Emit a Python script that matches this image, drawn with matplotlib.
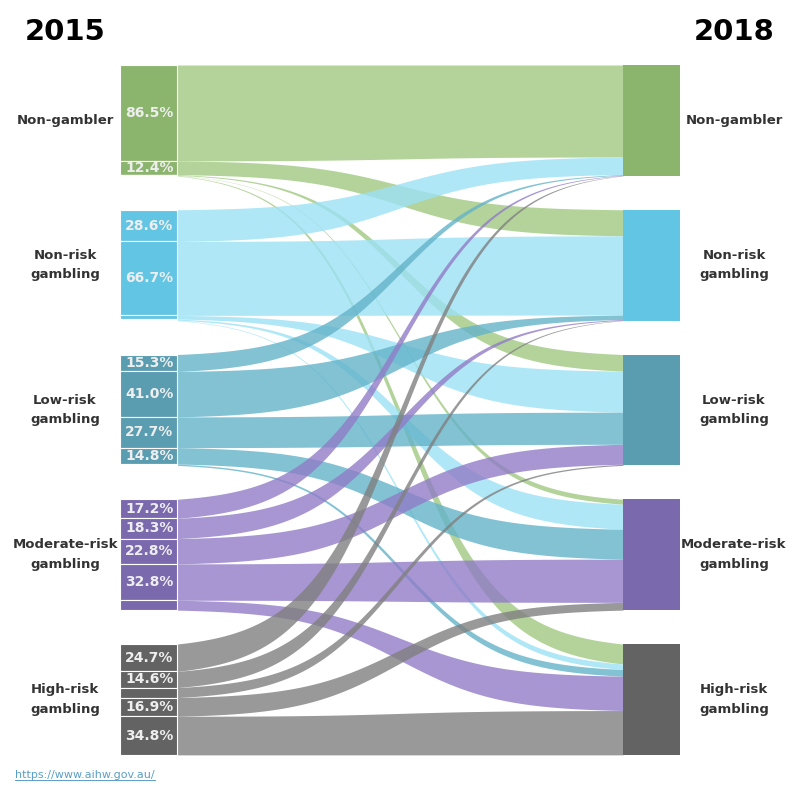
import numpy as np
import matplotlib
matplotlib.use('Agg')
import matplotlib.pyplot as plt

# groups, top to bottom on both sides
groups = ['Non-gambler', 'Non-risk\ngambling', 'Low-risk\ngambling',
          'Moderate-risk\ngambling', 'High-risk\ngambling']
year_left = '2015'
year_right = '2018'
source_url = 'https://www.aihw.gov.au/'

# % of each 2015 group (row) that moved to each 2018 group (column)
share_2015 = [
    [86.5, 12.4, 0.6, 0.15, 0.35],
    [28.6, 66.7, 3.3, 1.0, 0.4],
    [15.3, 41.0, 27.7, 14.8, 1.2],
    [17.2, 18.3, 22.8, 32.8, 8.9],
    [24.7, 14.6, 9.0, 16.9, 34.8],
]
# % of each 2018 group (column) that came from each 2015 group (row)
share_2018 = [
    [83.0, 23.5, 15.0, 4.5, 18.0],
    [15.8, 71.5, 37.0, 22.5, 5.0],
    [0.6, 4.0, 29.0, 27.0, 6.0],
    [0.4, 0.7, 18.0, 39.0, 31.0],
    [0.2, 0.3, 1.0, 7.0, 40.0],
]

node_colors = ['#8BB56D', '#62C5E3', '#5A9CB0', '#7B69AE', '#636363']
flow_colors = ['#A0C981', '#9CE2F6', '#63B3C9', '#917CC7', '#808080']

gap = 30.6          # gap between nodes, in % units
px_per_unit = 1.1084
top_px = 65

fig = plt.figure(figsize=(8, 8), dpi=100)
ax = fig.add_axes([0, 0, 1, 1])
ax.set_xlim(0, 800)
ax.set_ylim((800 - top_px) / px_per_unit, -top_px / px_per_unit)
ax.axis('off')

xl0, xl1 = 120, 177   # left node
xr0, xr1 = 623, 680   # right node

def node_top(i):
    return i * (100 + gap)

def sigmoid(t):
    s = 1 / (1 + np.exp(-(t * 9 - 4.5)))
    return (s - s[0]) / (s[-1] - s[0])

n = len(groups)
share_2015 = np.array(share_2015)
share_2018 = np.array(share_2018)

# left offsets: within each source, ordered by destination
left_start = np.zeros((n, n))
for i in range(n):
    left_start[i] = node_top(i) + np.concatenate([[0], np.cumsum(share_2015[i])[:-1]])
# right offsets: within each destination, ordered by source
right_start = np.zeros((n, n))
for j in range(n):
    right_start[:, j] = node_top(j) + np.concatenate([[0], np.cumsum(share_2018[:, j])[:-1]])

x = np.linspace(xl1, xr0, 200)
s = sigmoid(np.linspace(0, 1, 200))
for i in range(n):
    for j in range(n):
        lt = left_start[i, j]
        lb = lt + share_2015[i, j]
        rt = right_start[i, j]
        rb = rt + share_2018[i, j]
        top = lt + (rt - lt) * s
        bot = lb + (rb - lb) * s
        ax.fill_between(x, top, bot, color=flow_colors[i], alpha=0.8, lw=0)
        if max(share_2015[i, j], share_2018[i, j]) < 2:
            ax.plot(x, (top + bot) / 2, color=flow_colors[i], alpha=0.8, lw=0.9)

# left nodes, one segment per destination
for i in range(n):
    for j in range(n):
        y0 = left_start[i, j]
        h = share_2015[i, j]
        ax.add_patch(plt.Rectangle((xl0, y0), xl1 - xl0, h, facecolor=node_colors[i],
                                   edgecolor='white', lw=0.8))
        if h >= 10:
            ax.text((xl0 + xl1) / 2 + 1, y0 + h / 2, f'{h:.1f}%', ha='center', va='center',
                    fontsize=10, fontweight='bold', color='#EEEEEE')

# right nodes
for j in range(n):
    ax.add_patch(plt.Rectangle((xr0, node_top(j)), xr1 - xr0, 100,
                               facecolor=node_colors[j], lw=0))

for i, g in enumerate(groups):
    yc = node_top(i) + 50
    ax.text(65, yc, g, ha='center', va='center', fontsize=9.5, fontweight='bold',
            color='#333333', linespacing=1.65)
    ax.text(734, yc, g, ha='center', va='center', fontsize=9.5, fontweight='bold',
            color='#333333', linespacing=1.65)

y_title = (32 - top_px) / px_per_unit
ax.text(65, y_title, year_left, ha='center', va='center', fontsize=21, fontweight='bold', color='black')
ax.text(734, y_title, year_right, ha='center', va='center', fontsize=21, fontweight='bold', color='black')

y_url = (775 - top_px) / px_per_unit
t = ax.text(15, y_url, source_url, ha='left', va='center', fontsize=8, color='#5A9FC8')
fig.canvas.draw()
bb = t.get_window_extent().transformed(ax.transData.inverted())
ax.plot([bb.x0, bb.x1], [bb.y0 + 0.3, bb.y0 + 0.3], color='#5A9FC8', lw=0.7)

fig.savefig('out.png', dpi=100)
